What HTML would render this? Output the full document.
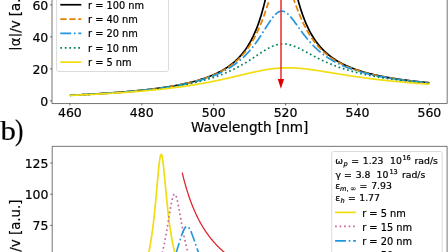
<!DOCTYPE html><html><head><meta charset="utf-8"><style>html,body{margin:0;padding:0;background:#fff;overflow:hidden}svg{display:block;filter:blur(0.3px)}text{font-family:"DejaVu Sans","Liberation Sans",sans-serif;stroke:#000;stroke-width:0.2px}</style></head><body>
<svg width="448" height="252" viewBox="0 0 448 252">
<rect width="448" height="252" fill="#fff"/>
<defs><clipPath id="ct"><rect x="52.00" y="-100" width="395.20" height="203.55"/></clipPath>
<clipPath id="cb"><rect x="52.20" y="146.35" width="394.90" height="200"/></clipPath></defs>
<g clip-path="url(#ct)" fill="none" stroke-width="1.70">
<polyline points="69.90,95.30 70.80,95.25 71.70,95.21 72.60,95.17 73.50,95.13 74.39,95.08 75.29,95.04 76.19,95.00 77.09,94.95 77.99,94.91 78.89,94.86 79.79,94.82 80.69,94.77 81.58,94.72 82.48,94.68 83.38,94.63 84.28,94.58 85.18,94.53 86.08,94.48 86.98,94.44 87.88,94.39 88.77,94.34 89.67,94.29 90.57,94.24 91.47,94.18 92.37,94.13 93.27,94.08 94.17,94.03 95.07,93.97 95.96,93.92 96.86,93.87 97.76,93.81 98.66,93.76 99.56,93.70 100.46,93.64 101.36,93.59 102.26,93.53 103.15,93.47 104.05,93.41 104.95,93.35 105.85,93.29 106.75,93.23 107.65,93.17 108.55,93.11 109.45,93.04 110.34,92.98 111.24,92.92 112.14,92.85 113.04,92.79 113.94,92.72 114.84,92.65 115.74,92.59 116.64,92.52 117.53,92.45 118.43,92.38 119.33,92.31 120.23,92.24 121.13,92.17 122.03,92.09 122.93,92.02 123.83,91.95 124.72,91.87 125.62,91.79 126.52,91.72 127.42,91.64 128.32,91.56 129.22,91.48 130.12,91.40 131.02,91.32 131.91,91.24 132.81,91.15 133.71,91.07 134.61,90.98 135.51,90.89 136.41,90.81 137.31,90.72 138.21,90.63 139.10,90.54 140.00,90.44 140.90,90.35 141.80,90.26 142.70,90.16 143.60,90.06 144.50,89.96 145.40,89.86 146.29,89.76 147.19,89.66 148.09,89.56 148.99,89.45 149.89,89.35 150.79,89.24 151.69,89.13 152.59,89.02 153.48,88.90 154.38,88.79 155.28,88.67 156.18,88.56 157.08,88.44 157.98,88.32 158.88,88.19 159.78,88.07 160.67,87.94 161.57,87.81 162.47,87.68 163.37,87.55 164.27,87.42 165.17,87.28 166.07,87.14 166.97,87.00 167.86,86.86 168.76,86.72 169.66,86.57 170.56,86.42 171.46,86.27 172.36,86.11 173.26,85.96 174.16,85.80 175.05,85.63 175.95,85.47 176.85,85.30 177.75,85.13 178.65,84.96 179.55,84.78 180.45,84.60 181.35,84.42 182.24,84.23 183.14,84.04 184.04,83.85 184.94,83.65 185.84,83.45 186.74,83.25 187.64,83.04 188.54,82.83 189.43,82.61 190.33,82.39 191.23,82.17 192.13,81.94 193.03,81.71 193.93,81.47 194.83,81.23 195.73,80.98 196.62,80.73 197.52,80.47 198.42,80.21 199.32,79.94 200.22,79.66 201.12,79.38 202.02,79.09 202.92,78.80 203.81,78.50 204.71,78.19 205.61,77.88 206.51,77.56 207.41,77.23 208.31,76.89 209.21,76.54 210.11,76.19 211.00,75.83 211.90,75.46 212.80,75.08 213.70,74.69 214.60,74.29 215.50,73.88 216.40,73.45 217.30,73.02 218.19,72.58 219.09,72.12 219.99,71.65 220.89,71.17 221.79,70.67 222.69,70.16 223.59,69.63 224.49,69.09 225.38,68.53 226.28,67.95 227.18,67.36 228.08,66.75 228.98,66.12 229.88,65.46 230.78,64.79 231.68,64.09 232.57,63.37 233.47,62.63 234.37,61.86 235.27,61.06 236.17,60.23 237.07,59.37 237.97,58.48 238.87,57.56 239.76,56.60 240.66,55.60 241.56,54.56 242.46,53.48 243.36,52.36 244.26,51.19 245.16,49.97 246.06,48.69 246.95,47.36 247.85,45.97 248.75,44.52 249.65,43.00 250.55,41.41 251.45,39.74 252.35,37.99 253.25,36.15 254.14,34.22 255.04,32.19 255.94,30.06 256.84,27.81 257.74,25.45 258.64,22.96 259.54,20.33 260.44,17.56 261.33,14.64 262.23,11.56 263.13,8.32 264.03,4.90 264.93,1.31 265.83,-2.47 266.73,-6.44 267.62,-10.59 268.52,-14.91 269.42,-19.39 270.32,-24.02 271.22,-28.75 272.12,-33.55 273.02,-38.35 273.92,-43.09 274.82,-47.67 275.71,-51.98 276.61,-55.91 277.51,-59.34 278.41,-62.15 279.31,-64.22 280.21,-65.49 281.11,-65.90 282.00,-65.45 282.90,-64.15 283.80,-62.09 284.70,-59.34 285.60,-56.04 286.50,-52.28 287.40,-48.20 288.30,-43.90 289.20,-39.47 290.09,-34.99 290.99,-30.54 291.89,-26.15 292.79,-21.87 293.69,-17.72 294.59,-13.73 295.49,-9.89 296.38,-6.22 297.28,-2.72 298.18,0.61 299.08,3.78 299.98,6.79 300.88,9.66 301.78,12.37 302.68,14.96 303.58,17.41 304.47,19.74 305.37,21.95 306.27,24.06 307.17,26.06 308.07,27.97 308.97,29.79 309.87,31.52 310.76,33.17 311.66,34.75 312.56,36.26 313.46,37.70 314.36,39.08 315.26,40.39 316.16,41.66 317.06,42.87 317.96,44.03 318.85,45.15 319.75,46.22 320.65,47.25 321.55,48.24 322.45,49.20 323.35,50.11 324.25,51.00 325.14,51.85 326.04,52.68 326.94,53.47 327.84,54.24 328.74,54.98 329.64,55.70 330.54,56.39 331.44,57.06 332.34,57.71 333.23,58.34 334.13,58.95 335.03,59.54 335.93,60.11 336.83,60.67 337.73,61.21 338.63,61.73 339.52,62.24 340.42,62.74 341.32,63.22 342.22,63.69 343.12,64.14 344.02,64.59 344.92,65.02 345.82,65.44 346.72,65.85 347.61,66.25 348.51,66.64 349.41,67.02 350.31,67.39 351.21,67.75 352.11,68.10 353.01,68.44 353.90,68.78 354.80,69.11 355.70,69.43 356.60,69.74 357.50,70.05 358.40,70.35 359.30,70.64 360.20,70.93 361.10,71.21 361.99,71.48 362.89,71.75 363.79,72.01 364.69,72.27 365.59,72.52 366.49,72.77 367.39,73.01 368.28,73.25 369.18,73.48 370.08,73.71 370.98,73.93 371.88,74.15 372.78,74.37 373.68,74.58 374.58,74.79 375.48,74.99 376.37,75.19 377.27,75.38 378.17,75.58 379.07,75.77 379.97,75.95 380.87,76.13 381.77,76.31 382.67,76.49 383.56,76.66 384.46,76.83 385.36,77.00 386.26,77.17 387.16,77.33 388.06,77.49 388.96,77.64 389.86,77.80 390.75,77.95 391.65,78.10 392.55,78.25 393.45,78.39 394.35,78.53 395.25,78.67 396.15,78.81 397.05,78.95 397.94,79.08 398.84,79.21 399.74,79.34 400.64,79.47 401.54,79.60 402.44,79.72 403.34,79.84 404.24,79.96 405.13,80.08 406.03,80.20 406.93,80.32 407.83,80.43 408.73,80.54 409.63,80.65 410.53,80.76 411.43,80.87 412.32,80.98 413.22,81.08 414.12,81.19 415.02,81.29 415.92,81.39 416.82,81.49 417.72,81.59 418.62,81.68 419.51,81.78 420.41,81.88 421.31,81.97 422.21,82.06 423.11,82.15 424.01,82.24 424.91,82.33 425.81,82.42 426.70,82.51 427.60,82.59 428.50,82.68 429.40,82.76" stroke="#000000"/>
<polyline points="69.90,95.30 70.80,95.26 71.70,95.22 72.60,95.17 73.50,95.13 74.39,95.09 75.29,95.04 76.19,95.00 77.09,94.96 77.99,94.91 78.89,94.87 79.79,94.82 80.69,94.78 81.58,94.73 82.48,94.68 83.38,94.64 84.28,94.59 85.18,94.54 86.08,94.49 86.98,94.44 87.88,94.39 88.77,94.34 89.67,94.29 90.57,94.24 91.47,94.19 92.37,94.14 93.27,94.09 94.17,94.04 95.07,93.98 95.96,93.93 96.86,93.87 97.76,93.82 98.66,93.76 99.56,93.71 100.46,93.65 101.36,93.60 102.26,93.54 103.15,93.48 104.05,93.42 104.95,93.36 105.85,93.30 106.75,93.24 107.65,93.18 108.55,93.12 109.45,93.06 110.34,92.99 111.24,92.93 112.14,92.87 113.04,92.80 113.94,92.74 114.84,92.67 115.74,92.60 116.64,92.53 117.53,92.47 118.43,92.40 119.33,92.33 120.23,92.26 121.13,92.18 122.03,92.11 122.93,92.04 123.83,91.96 124.72,91.89 125.62,91.81 126.52,91.74 127.42,91.66 128.32,91.58 129.22,91.50 130.12,91.42 131.02,91.34 131.91,91.26 132.81,91.17 133.71,91.09 134.61,91.00 135.51,90.92 136.41,90.83 137.31,90.74 138.21,90.65 139.10,90.56 140.00,90.47 140.90,90.38 141.80,90.28 142.70,90.19 143.60,90.09 144.50,89.99 145.40,89.89 146.29,89.79 147.19,89.69 148.09,89.59 148.99,89.49 149.89,89.38 150.79,89.27 151.69,89.16 152.59,89.05 153.48,88.94 154.38,88.83 155.28,88.71 156.18,88.60 157.08,88.48 157.98,88.36 158.88,88.24 159.78,88.11 160.67,87.99 161.57,87.86 162.47,87.73 163.37,87.60 164.27,87.47 165.17,87.33 166.07,87.20 166.97,87.06 167.86,86.92 168.76,86.77 169.66,86.63 170.56,86.48 171.46,86.33 172.36,86.18 173.26,86.02 174.16,85.87 175.05,85.70 175.95,85.54 176.85,85.38 177.75,85.21 178.65,85.04 179.55,84.86 180.45,84.69 181.35,84.50 182.24,84.32 183.14,84.13 184.04,83.94 184.94,83.75 185.84,83.55 186.74,83.35 187.64,83.15 188.54,82.94 189.43,82.73 190.33,82.51 191.23,82.29 192.13,82.07 193.03,81.84 193.93,81.61 194.83,81.37 195.73,81.12 196.62,80.88 197.52,80.62 198.42,80.37 199.32,80.10 200.22,79.83 201.12,79.56 202.02,79.28 202.92,78.99 203.81,78.70 204.71,78.40 205.61,78.09 206.51,77.78 207.41,77.46 208.31,77.13 209.21,76.79 210.11,76.45 211.00,76.10 211.90,75.74 212.80,75.37 213.70,74.99 214.60,74.60 215.50,74.21 216.40,73.80 217.30,73.38 218.19,72.95 219.09,72.51 219.99,72.06 220.89,71.60 221.79,71.12 222.69,70.63 223.59,70.13 224.49,69.61 225.38,69.08 226.28,68.53 227.18,67.96 228.08,67.38 228.98,66.78 229.88,66.16 230.78,65.53 231.68,64.87 232.57,64.19 233.47,63.49 234.37,62.77 235.27,62.03 236.17,61.25 237.07,60.46 237.97,59.63 238.87,58.78 239.76,57.90 240.66,56.98 241.56,56.03 242.46,55.05 243.36,54.03 244.26,52.97 245.16,51.88 246.06,50.74 246.95,49.55 247.85,48.33 248.75,47.05 249.65,45.72 250.55,44.34 251.45,42.90 252.35,41.40 253.25,39.84 254.14,38.22 255.04,36.53 255.94,34.77 256.84,32.94 257.74,31.04 258.64,29.06 259.54,27.00 260.44,24.86 261.33,22.64 262.23,20.33 263.13,17.95 264.03,15.49 264.93,12.96 265.83,10.35 266.73,7.69 267.62,4.97 268.52,2.21 269.42,-0.57 270.32,-3.35 271.22,-6.11 272.12,-8.82 273.02,-11.44 273.92,-13.95 274.82,-16.31 275.71,-18.47 276.61,-20.39 277.51,-22.04 278.41,-23.37 279.31,-24.37 280.21,-25.01 281.11,-25.27 282.00,-25.16 282.90,-24.68 283.80,-23.84 284.70,-22.68 285.60,-21.22 286.50,-19.50 287.40,-17.56 288.30,-15.43 289.20,-13.16 290.09,-10.77 290.99,-8.32 291.89,-5.81 292.79,-3.28 293.69,-0.75 294.59,1.76 295.49,4.23 296.38,6.66 297.28,9.04 298.18,11.36 299.08,13.61 299.98,15.80 300.88,17.91 301.78,19.95 302.68,21.92 303.58,23.82 304.47,25.64 305.37,27.40 306.27,29.10 307.17,30.73 308.07,32.30 308.97,33.80 309.87,35.25 310.76,36.65 311.66,37.99 312.56,39.28 313.46,40.53 314.36,41.72 315.26,42.88 316.16,43.99 317.06,45.06 317.96,46.09 318.85,47.09 319.75,48.05 320.65,48.97 321.55,49.87 322.45,50.73 323.35,51.57 324.25,52.38 325.14,53.16 326.04,53.92 326.94,54.65 327.84,55.36 328.74,56.05 329.64,56.71 330.54,57.36 331.44,57.98 332.34,58.59 333.23,59.18 334.13,59.75 335.03,60.31 335.93,60.85 336.83,61.37 337.73,61.88 338.63,62.38 339.52,62.86 340.42,63.33 341.32,63.79 342.22,64.24 343.12,64.67 344.02,65.10 344.92,65.51 345.82,65.91 346.72,66.30 347.61,66.69 348.51,67.06 349.41,67.42 350.31,67.78 351.21,68.13 352.11,68.47 353.01,68.80 353.90,69.12 354.80,69.44 355.70,69.75 356.60,70.05 357.50,70.35 358.40,70.64 359.30,70.92 360.20,71.20 361.10,71.47 361.99,71.74 362.89,72.00 363.79,72.25 364.69,72.50 365.59,72.75 366.49,72.99 367.39,73.23 368.28,73.46 369.18,73.68 370.08,73.91 370.98,74.13 371.88,74.34 372.78,74.55 373.68,74.76 374.58,74.96 375.48,75.16 376.37,75.35 377.27,75.55 378.17,75.73 379.07,75.92 379.97,76.10 380.87,76.28 381.77,76.46 382.67,76.63 383.56,76.80 384.46,76.97 385.36,77.13 386.26,77.29 387.16,77.45 388.06,77.61 388.96,77.76 389.86,77.91 390.75,78.06 391.65,78.21 392.55,78.35 393.45,78.50 394.35,78.64 395.25,78.77 396.15,78.91 397.05,79.04 397.94,79.18 398.84,79.31 399.74,79.43 400.64,79.56 401.54,79.68 402.44,79.81 403.34,79.93 404.24,80.05 405.13,80.16 406.03,80.28 406.93,80.39 407.83,80.51 408.73,80.62 409.63,80.73 410.53,80.83 411.43,80.94 412.32,81.05 413.22,81.15 414.12,81.25 415.02,81.35 415.92,81.45 416.82,81.55 417.72,81.65 418.62,81.75 419.51,81.84 420.41,81.93 421.31,82.03 422.21,82.12 423.11,82.21 424.01,82.30 424.91,82.38 425.81,82.47 426.70,82.56 427.60,82.64 428.50,82.73 429.40,82.81" stroke="#E38200" stroke-dasharray="6.29 2.72"/>
<polyline points="69.90,95.31 70.80,95.27 71.70,95.23 72.60,95.19 73.50,95.14 74.39,95.10 75.29,95.06 76.19,95.01 77.09,94.97 77.99,94.93 78.89,94.88 79.79,94.84 80.69,94.79 81.58,94.74 82.48,94.70 83.38,94.65 84.28,94.60 85.18,94.56 86.08,94.51 86.98,94.46 87.88,94.41 88.77,94.36 89.67,94.31 90.57,94.26 91.47,94.21 92.37,94.16 93.27,94.11 94.17,94.06 95.07,94.00 95.96,93.95 96.86,93.90 97.76,93.84 98.66,93.79 99.56,93.73 100.46,93.68 101.36,93.62 102.26,93.56 103.15,93.50 104.05,93.45 104.95,93.39 105.85,93.33 106.75,93.27 107.65,93.21 108.55,93.15 109.45,93.09 110.34,93.02 111.24,92.96 112.14,92.90 113.04,92.83 113.94,92.77 114.84,92.70 115.74,92.63 116.64,92.57 117.53,92.50 118.43,92.43 119.33,92.36 120.23,92.29 121.13,92.22 122.03,92.15 122.93,92.08 123.83,92.00 124.72,91.93 125.62,91.85 126.52,91.78 127.42,91.70 128.32,91.62 129.22,91.55 130.12,91.47 131.02,91.39 131.91,91.31 132.81,91.22 133.71,91.14 134.61,91.06 135.51,90.97 136.41,90.88 137.31,90.80 138.21,90.71 139.10,90.62 140.00,90.53 140.90,90.44 141.80,90.35 142.70,90.25 143.60,90.16 144.50,90.06 145.40,89.96 146.29,89.86 147.19,89.76 148.09,89.66 148.99,89.56 149.89,89.46 150.79,89.35 151.69,89.24 152.59,89.14 153.48,89.03 154.38,88.91 155.28,88.80 156.18,88.69 157.08,88.57 157.98,88.45 158.88,88.33 159.78,88.21 160.67,88.09 161.57,87.97 162.47,87.84 163.37,87.71 164.27,87.58 165.17,87.45 166.07,87.32 166.97,87.18 167.86,87.04 168.76,86.90 169.66,86.76 170.56,86.62 171.46,86.47 172.36,86.32 173.26,86.17 174.16,86.02 175.05,85.86 175.95,85.70 176.85,85.54 177.75,85.38 178.65,85.21 179.55,85.04 180.45,84.87 181.35,84.70 182.24,84.52 183.14,84.34 184.04,84.16 184.94,83.97 185.84,83.78 186.74,83.58 187.64,83.39 188.54,83.19 189.43,82.98 190.33,82.77 191.23,82.56 192.13,82.35 193.03,82.13 193.93,81.90 194.83,81.68 195.73,81.44 196.62,81.21 197.52,80.96 198.42,80.72 199.32,80.47 200.22,80.21 201.12,79.95 202.02,79.68 202.92,79.41 203.81,79.13 204.71,78.85 205.61,78.56 206.51,78.26 207.41,77.96 208.31,77.65 209.21,77.34 210.11,77.01 211.00,76.68 211.90,76.35 212.80,76.00 213.70,75.65 214.60,75.29 215.50,74.92 216.40,74.54 217.30,74.16 218.19,73.76 219.09,73.36 219.99,72.94 220.89,72.52 221.79,72.08 222.69,71.63 223.59,71.17 224.49,70.71 225.38,70.22 226.28,69.73 227.18,69.22 228.08,68.70 228.98,68.17 229.88,67.62 230.78,67.05 231.68,66.48 232.57,65.88 233.47,65.27 234.37,64.64 235.27,64.00 236.17,63.33 237.07,62.65 237.97,61.95 238.87,61.22 239.76,60.48 240.66,59.71 241.56,58.93 242.46,58.12 243.36,57.28 244.26,56.42 245.16,55.54 246.06,54.63 246.95,53.69 247.85,52.73 248.75,51.74 249.65,50.72 250.55,49.67 251.45,48.59 252.35,47.49 253.25,46.35 254.14,45.18 255.04,43.99 255.94,42.76 256.84,41.51 257.74,40.22 258.64,38.91 259.54,37.58 260.44,36.22 261.33,34.84 262.23,33.44 263.13,32.02 264.03,30.59 264.93,29.16 265.83,27.73 266.73,26.30 267.62,24.88 268.52,23.48 269.42,22.11 270.32,20.78 271.22,19.49 272.12,18.25 273.02,17.09 273.92,16.00 274.82,15.00 275.71,14.09 276.61,13.30 277.51,12.61 278.41,12.05 279.31,11.62 280.21,11.32 281.11,11.15 282.00,11.12 282.90,11.23 283.80,11.46 284.70,11.83 285.60,12.31 286.50,12.91 287.40,13.61 288.30,14.41 289.20,15.30 290.09,16.26 290.99,17.29 291.89,18.38 292.79,19.52 293.69,20.69 294.59,21.90 295.49,23.13 296.38,24.37 297.28,25.62 298.18,26.87 299.08,28.13 299.98,29.37 300.88,30.61 301.78,31.83 302.68,33.04 303.58,34.23 304.47,35.40 305.37,36.55 306.27,37.67 307.17,38.77 308.07,39.85 308.97,40.90 309.87,41.93 310.76,42.93 311.66,43.90 312.56,44.85 313.46,45.78 314.36,46.68 315.26,47.56 316.16,48.42 317.06,49.25 317.96,50.06 318.85,50.84 319.75,51.61 320.65,52.36 321.55,53.08 322.45,53.79 323.35,54.47 324.25,55.14 325.14,55.79 326.04,56.42 326.94,57.04 327.84,57.64 328.74,58.22 329.64,58.79 330.54,59.35 331.44,59.89 332.34,60.41 333.23,60.93 334.13,61.43 335.03,61.91 335.93,62.39 336.83,62.85 337.73,63.30 338.63,63.74 339.52,64.17 340.42,64.60 341.32,65.01 342.22,65.41 343.12,65.80 344.02,66.18 344.92,66.55 345.82,66.92 346.72,67.28 347.61,67.62 348.51,67.97 349.41,68.30 350.31,68.63 351.21,68.95 352.11,69.26 353.01,69.56 353.90,69.86 354.80,70.16 355.70,70.44 356.60,70.73 357.50,71.00 358.40,71.27 359.30,71.54 360.20,71.80 361.10,72.05 361.99,72.30 362.89,72.54 363.79,72.78 364.69,73.02 365.59,73.25 366.49,73.48 367.39,73.70 368.28,73.92 369.18,74.13 370.08,74.34 370.98,74.55 371.88,74.75 372.78,74.95 373.68,75.15 374.58,75.34 375.48,75.53 376.37,75.72 377.27,75.90 378.17,76.08 379.07,76.26 379.97,76.43 380.87,76.60 381.77,76.77 382.67,76.94 383.56,77.10 384.46,77.26 385.36,77.42 386.26,77.57 387.16,77.72 388.06,77.87 388.96,78.02 389.86,78.17 390.75,78.31 391.65,78.45 392.55,78.59 393.45,78.73 394.35,78.86 395.25,79.00 396.15,79.13 397.05,79.26 397.94,79.39 398.84,79.51 399.74,79.64 400.64,79.76 401.54,79.88 402.44,80.00 403.34,80.11 404.24,80.23 405.13,80.34 406.03,80.46 406.93,80.57 407.83,80.68 408.73,80.78 409.63,80.89 410.53,81.00 411.43,81.10 412.32,81.20 413.22,81.30 414.12,81.40 415.02,81.50 415.92,81.60 416.82,81.69 417.72,81.79 418.62,81.88 419.51,81.97 420.41,82.07 421.31,82.16 422.21,82.24 423.11,82.33 424.01,82.42 424.91,82.51 425.81,82.59 426.70,82.67 427.60,82.76 428.50,82.84 429.40,82.92" stroke="#2196DE" stroke-dasharray="10.88 2.72 1.70 2.72"/>
<polyline points="69.90,95.35 70.80,95.30 71.70,95.26 72.60,95.22 73.50,95.18 74.39,95.14 75.29,95.10 76.19,95.05 77.09,95.01 77.99,94.97 78.89,94.92 79.79,94.88 80.69,94.83 81.58,94.79 82.48,94.74 83.38,94.70 84.28,94.65 85.18,94.60 86.08,94.56 86.98,94.51 87.88,94.46 88.77,94.41 89.67,94.36 90.57,94.32 91.47,94.27 92.37,94.22 93.27,94.16 94.17,94.11 95.07,94.06 95.96,94.01 96.86,93.96 97.76,93.90 98.66,93.85 99.56,93.80 100.46,93.74 101.36,93.69 102.26,93.63 103.15,93.58 104.05,93.52 104.95,93.46 105.85,93.40 106.75,93.35 107.65,93.29 108.55,93.23 109.45,93.17 110.34,93.11 111.24,93.05 112.14,92.98 113.04,92.92 113.94,92.86 114.84,92.79 115.74,92.73 116.64,92.66 117.53,92.60 118.43,92.53 119.33,92.47 120.23,92.40 121.13,92.33 122.03,92.26 122.93,92.19 123.83,92.12 124.72,92.05 125.62,91.97 126.52,91.90 127.42,91.83 128.32,91.75 129.22,91.68 130.12,91.60 131.02,91.52 131.91,91.45 132.81,91.37 133.71,91.29 134.61,91.21 135.51,91.12 136.41,91.04 137.31,90.96 138.21,90.87 139.10,90.79 140.00,90.70 140.90,90.61 141.80,90.52 142.70,90.43 143.60,90.34 144.50,90.25 145.40,90.16 146.29,90.06 147.19,89.97 148.09,89.87 148.99,89.77 149.89,89.68 150.79,89.58 151.69,89.47 152.59,89.37 153.48,89.27 154.38,89.16 155.28,89.06 156.18,88.95 157.08,88.84 157.98,88.73 158.88,88.62 159.78,88.50 160.67,88.39 161.57,88.27 162.47,88.15 163.37,88.03 164.27,87.91 165.17,87.79 166.07,87.66 166.97,87.53 167.86,87.41 168.76,87.27 169.66,87.14 170.56,87.01 171.46,86.87 172.36,86.73 173.26,86.59 174.16,86.45 175.05,86.31 175.95,86.16 176.85,86.01 177.75,85.86 178.65,85.71 179.55,85.56 180.45,85.40 181.35,85.24 182.24,85.08 183.14,84.91 184.04,84.75 184.94,84.58 185.84,84.40 186.74,84.23 187.64,84.05 188.54,83.87 189.43,83.69 190.33,83.50 191.23,83.31 192.13,83.12 193.03,82.92 193.93,82.72 194.83,82.52 195.73,82.31 196.62,82.10 197.52,81.89 198.42,81.68 199.32,81.46 200.22,81.23 201.12,81.00 202.02,80.77 202.92,80.54 203.81,80.30 204.71,80.05 205.61,79.81 206.51,79.55 207.41,79.30 208.31,79.04 209.21,78.77 210.11,78.50 211.00,78.22 211.90,77.94 212.80,77.66 213.70,77.36 214.60,77.07 215.50,76.76 216.40,76.46 217.30,76.14 218.19,75.82 219.09,75.50 219.99,75.17 220.89,74.83 221.79,74.49 222.69,74.14 223.59,73.78 224.49,73.42 225.38,73.05 226.28,72.67 227.18,72.29 228.08,71.89 228.98,71.50 229.88,71.09 230.78,70.68 231.68,70.26 232.57,69.83 233.47,69.39 234.37,68.95 235.27,68.50 236.17,68.04 237.07,67.57 237.97,67.09 238.87,66.61 239.76,66.12 240.66,65.62 241.56,65.11 242.46,64.59 243.36,64.07 244.26,63.54 245.16,63.00 246.06,62.46 246.95,61.90 247.85,61.34 248.75,60.78 249.65,60.21 250.55,59.63 251.45,59.05 252.35,58.46 253.25,57.87 254.14,57.28 255.04,56.68 255.94,56.08 256.84,55.48 257.74,54.89 258.64,54.29 259.54,53.69 260.44,53.10 261.33,52.52 262.23,51.94 263.13,51.37 264.03,50.80 264.93,50.25 265.83,49.71 266.73,49.19 267.62,48.68 268.52,48.18 269.42,47.71 270.32,47.26 271.22,46.83 272.12,46.42 273.02,46.04 273.92,45.69 274.82,45.36 275.71,45.07 276.61,44.80 277.51,44.57 278.41,44.37 279.31,44.21 280.21,44.08 281.11,43.98 282.00,43.92 282.90,43.89 283.80,43.90 284.70,43.94 285.60,44.01 286.50,44.12 287.40,44.26 288.30,44.43 289.20,44.63 290.09,44.85 290.99,45.11 291.89,45.39 292.79,45.69 293.69,46.01 294.59,46.36 295.49,46.72 296.38,47.11 297.28,47.51 298.18,47.92 299.08,48.34 299.98,48.78 300.88,49.23 301.78,49.69 302.68,50.15 303.58,50.62 304.47,51.09 305.37,51.57 306.27,52.05 307.17,52.54 308.07,53.02 308.97,53.51 309.87,53.99 310.76,54.47 311.66,54.95 312.56,55.43 313.46,55.91 314.36,56.38 315.26,56.85 316.16,57.31 317.06,57.77 317.96,58.23 318.85,58.68 319.75,59.12 320.65,59.56 321.55,60.00 322.45,60.43 323.35,60.85 324.25,61.26 325.14,61.68 326.04,62.08 326.94,62.48 327.84,62.87 328.74,63.26 329.64,63.64 330.54,64.01 331.44,64.38 332.34,64.74 333.23,65.10 334.13,65.45 335.03,65.79 335.93,66.13 336.83,66.46 337.73,66.79 338.63,67.11 339.52,67.43 340.42,67.74 341.32,68.04 342.22,68.35 343.12,68.64 344.02,68.93 344.92,69.22 345.82,69.50 346.72,69.77 347.61,70.04 348.51,70.31 349.41,70.57 350.31,70.83 351.21,71.08 352.11,71.33 353.01,71.58 353.90,71.82 354.80,72.05 355.70,72.29 356.60,72.52 357.50,72.74 358.40,72.96 359.30,73.18 360.20,73.40 361.10,73.61 361.99,73.81 362.89,74.02 363.79,74.22 364.69,74.42 365.59,74.61 366.49,74.80 367.39,74.99 368.28,75.18 369.18,75.36 370.08,75.54 370.98,75.72 371.88,75.89 372.78,76.06 373.68,76.23 374.58,76.40 375.48,76.56 376.37,76.73 377.27,76.89 378.17,77.04 379.07,77.20 379.97,77.35 380.87,77.50 381.77,77.65 382.67,77.79 383.56,77.94 384.46,78.08 385.36,78.22 386.26,78.36 387.16,78.49 388.06,78.63 388.96,78.76 389.86,78.89 390.75,79.02 391.65,79.14 392.55,79.27 393.45,79.39 394.35,79.51 395.25,79.63 396.15,79.75 397.05,79.87 397.94,79.99 398.84,80.10 399.74,80.21 400.64,80.32 401.54,80.43 402.44,80.54 403.34,80.65 404.24,80.75 405.13,80.86 406.03,80.96 406.93,81.06 407.83,81.16 408.73,81.26 409.63,81.36 410.53,81.46 411.43,81.55 412.32,81.65 413.22,81.74 414.12,81.83 415.02,81.92 415.92,82.01 416.82,82.10 417.72,82.19 418.62,82.28 419.51,82.36 420.41,82.45 421.31,82.53 422.21,82.61 423.11,82.70 424.01,82.78 424.91,82.86 425.81,82.94 426.70,83.01 427.60,83.09 428.50,83.17 429.40,83.24" stroke="#00805F" stroke-dasharray="1.70 2.80"/>
<polyline points="69.90,95.45 70.80,95.41 71.70,95.38 72.60,95.34 73.50,95.30 74.39,95.26 75.29,95.22 76.19,95.18 77.09,95.14 77.99,95.10 78.89,95.05 79.79,95.01 80.69,94.97 81.58,94.93 82.48,94.88 83.38,94.84 84.28,94.80 85.18,94.75 86.08,94.71 86.98,94.67 87.88,94.62 88.77,94.58 89.67,94.53 90.57,94.48 91.47,94.44 92.37,94.39 93.27,94.34 94.17,94.30 95.07,94.25 95.96,94.20 96.86,94.15 97.76,94.10 98.66,94.05 99.56,94.00 100.46,93.95 101.36,93.90 102.26,93.85 103.15,93.80 104.05,93.75 104.95,93.69 105.85,93.64 106.75,93.59 107.65,93.53 108.55,93.48 109.45,93.42 110.34,93.37 111.24,93.31 112.14,93.25 113.04,93.20 113.94,93.14 114.84,93.08 115.74,93.02 116.64,92.96 117.53,92.90 118.43,92.84 119.33,92.78 120.23,92.72 121.13,92.66 122.03,92.60 122.93,92.53 123.83,92.47 124.72,92.41 125.62,92.34 126.52,92.28 127.42,92.21 128.32,92.14 129.22,92.07 130.12,92.01 131.02,91.94 131.91,91.87 132.81,91.80 133.71,91.73 134.61,91.66 135.51,91.58 136.41,91.51 137.31,91.44 138.21,91.36 139.10,91.29 140.00,91.21 140.90,91.13 141.80,91.06 142.70,90.98 143.60,90.90 144.50,90.82 145.40,90.74 146.29,90.66 147.19,90.58 148.09,90.49 148.99,90.41 149.89,90.32 150.79,90.24 151.69,90.15 152.59,90.06 153.48,89.98 154.38,89.89 155.28,89.80 156.18,89.71 157.08,89.61 157.98,89.52 158.88,89.43 159.78,89.33 160.67,89.23 161.57,89.14 162.47,89.04 163.37,88.94 164.27,88.84 165.17,88.74 166.07,88.64 166.97,88.53 167.86,88.43 168.76,88.32 169.66,88.21 170.56,88.11 171.46,88.00 172.36,87.89 173.26,87.77 174.16,87.66 175.05,87.55 175.95,87.43 176.85,87.31 177.75,87.20 178.65,87.08 179.55,86.96 180.45,86.83 181.35,86.71 182.24,86.59 183.14,86.46 184.04,86.33 184.94,86.20 185.84,86.07 186.74,85.94 187.64,85.81 188.54,85.67 189.43,85.54 190.33,85.40 191.23,85.26 192.13,85.12 193.03,84.98 193.93,84.83 194.83,84.69 195.73,84.54 196.62,84.39 197.52,84.24 198.42,84.09 199.32,83.94 200.22,83.78 201.12,83.63 202.02,83.47 202.92,83.31 203.81,83.15 204.71,82.98 205.61,82.82 206.51,82.65 207.41,82.48 208.31,82.31 209.21,82.14 210.11,81.97 211.00,81.79 211.90,81.61 212.80,81.44 213.70,81.26 214.60,81.07 215.50,80.89 216.40,80.70 217.30,80.52 218.19,80.33 219.09,80.14 219.99,79.95 220.89,79.75 221.79,79.56 222.69,79.36 223.59,79.17 224.49,78.97 225.38,78.77 226.28,78.56 227.18,78.36 228.08,78.16 228.98,77.95 229.88,77.74 230.78,77.54 231.68,77.33 232.57,77.12 233.47,76.91 234.37,76.69 235.27,76.48 236.17,76.27 237.07,76.06 237.97,75.84 238.87,75.63 239.76,75.41 240.66,75.20 241.56,74.98 242.46,74.77 243.36,74.55 244.26,74.34 245.16,74.13 246.06,73.91 246.95,73.70 247.85,73.49 248.75,73.28 249.65,73.07 250.55,72.86 251.45,72.66 252.35,72.45 253.25,72.25 254.14,72.05 255.04,71.86 255.94,71.66 256.84,71.47 257.74,71.28 258.64,71.09 259.54,70.91 260.44,70.73 261.33,70.55 262.23,70.38 263.13,70.22 264.03,70.05 264.93,69.89 265.83,69.74 266.73,69.59 267.62,69.44 268.52,69.31 269.42,69.17 270.32,69.04 271.22,68.92 272.12,68.80 273.02,68.69 273.92,68.59 274.82,68.49 275.71,68.39 276.61,68.31 277.51,68.23 278.41,68.16 279.31,68.09 280.21,68.03 281.11,67.98 282.00,67.93 282.90,67.89 283.80,67.86 284.70,67.83 285.60,67.81 286.50,67.79 287.40,67.79 288.30,67.79 289.20,67.79 290.09,67.81 290.99,67.83 291.89,67.85 292.79,67.88 293.69,67.92 294.59,67.96 295.49,68.01 296.38,68.06 297.28,68.12 298.18,68.19 299.08,68.26 299.98,68.33 300.88,68.41 301.78,68.50 302.68,68.59 303.58,68.68 304.47,68.78 305.37,68.88 306.27,68.98 307.17,69.09 308.07,69.20 308.97,69.32 309.87,69.43 310.76,69.56 311.66,69.68 312.56,69.81 313.46,69.93 314.36,70.06 315.26,70.20 316.16,70.33 317.06,70.47 317.96,70.61 318.85,70.75 319.75,70.89 320.65,71.03 321.55,71.18 322.45,71.32 323.35,71.47 324.25,71.61 325.14,71.76 326.04,71.91 326.94,72.06 327.84,72.20 328.74,72.35 329.64,72.50 330.54,72.65 331.44,72.80 332.34,72.95 333.23,73.10 334.13,73.25 335.03,73.40 335.93,73.54 336.83,73.69 337.73,73.84 338.63,73.99 339.52,74.13 340.42,74.28 341.32,74.43 342.22,74.57 343.12,74.71 344.02,74.86 344.92,75.00 345.82,75.14 346.72,75.28 347.61,75.42 348.51,75.56 349.41,75.70 350.31,75.84 351.21,75.97 352.11,76.11 353.01,76.24 353.90,76.38 354.80,76.51 355.70,76.64 356.60,76.77 357.50,76.90 358.40,77.03 359.30,77.16 360.20,77.28 361.10,77.41 361.99,77.53 362.89,77.66 363.79,77.78 364.69,77.90 365.59,78.02 366.49,78.14 367.39,78.26 368.28,78.37 369.18,78.49 370.08,78.60 370.98,78.72 371.88,78.83 372.78,78.94 373.68,79.05 374.58,79.16 375.48,79.27 376.37,79.38 377.27,79.48 378.17,79.59 379.07,79.69 379.97,79.80 380.87,79.90 381.77,80.00 382.67,80.10 383.56,80.20 384.46,80.30 385.36,80.40 386.26,80.50 387.16,80.59 388.06,80.69 388.96,80.78 389.86,80.87 390.75,80.97 391.65,81.06 392.55,81.15 393.45,81.24 394.35,81.33 395.25,81.41 396.15,81.50 397.05,81.59 397.94,81.67 398.84,81.76 399.74,81.84 400.64,81.92 401.54,82.01 402.44,82.09 403.34,82.17 404.24,82.25 405.13,82.33 406.03,82.41 406.93,82.48 407.83,82.56 408.73,82.64 409.63,82.71 410.53,82.79 411.43,82.86 412.32,82.94 413.22,83.01 414.12,83.08 415.02,83.15 415.92,83.22 416.82,83.29 417.72,83.36 418.62,83.43 419.51,83.50 420.41,83.57 421.31,83.63 422.21,83.70 423.11,83.77 424.01,83.83 424.91,83.90 425.81,83.96 426.70,84.02 427.60,84.09 428.50,84.15 429.40,84.21" stroke="#F0DD12"/>
</g>
<line x1="281" y1="-5" x2="281" y2="80" stroke="#e42c2c" stroke-width="1.5"/>
<polygon points="277.7,79 284.1,79 280.9,88.8" fill="#e00000"/>
<g stroke="#000" stroke-width="0.55" fill="none">
<line x1="52.00" y1="-10" x2="52.00" y2="103.55"/>
<line x1="447.20" y1="-10" x2="447.20" y2="103.55"/>
<line x1="52.00" y1="103.55" x2="447.20" y2="103.55"/>
<line x1="50.00" y1="100.90" x2="52.00" y2="100.90"/>
<line x1="50.00" y1="68.90" x2="52.00" y2="68.90"/>
<line x1="50.00" y1="36.90" x2="52.00" y2="36.90"/>
<line x1="50.00" y1="4.90" x2="52.00" y2="4.90"/>
<line x1="69.90" y1="103.55" x2="69.90" y2="105.55"/>
<line x1="141.80" y1="103.55" x2="141.80" y2="105.55"/>
<line x1="213.70" y1="103.55" x2="213.70" y2="105.55"/>
<line x1="285.60" y1="103.55" x2="285.60" y2="105.55"/>
<line x1="357.50" y1="103.55" x2="357.50" y2="105.55"/>
<line x1="429.40" y1="103.55" x2="429.40" y2="105.55"/>
</g>
<g font-size="12.50" fill="#000">
<text x="48.3" y="105.86" text-anchor="end">0</text>
<text x="48.3" y="73.86" text-anchor="end">20</text>
<text x="48.3" y="41.86" text-anchor="end">40</text>
<text x="48.3" y="9.86" text-anchor="end">60</text>
<text x="69.90" y="117.0" text-anchor="middle">460</text>
<text x="141.80" y="117.0" text-anchor="middle">480</text>
<text x="213.70" y="117.0" text-anchor="middle">500</text>
<text x="285.60" y="117.0" text-anchor="middle">520</text>
<text x="357.50" y="117.0" text-anchor="middle">540</text>
<text x="429.40" y="117.0" text-anchor="middle">560</text>
</g>
<text x="249.6" y="131.8" text-anchor="middle" font-size="13.60">Wavelength [nm]</text>
<text transform="translate(19.6,50.4) rotate(-90)" font-size="13.4"><tspan font-size="11.6" dy="-1.6">|</tspan><tspan dy="1.6" dx="0.3">α</tspan><tspan font-size="11.6" dy="-1.6" dx="0.3">|</tspan><tspan dy="1.6" dx="0.3">/v [a.u.]</tspan></text>
<rect x="56.6" y="-20" width="111.9" height="91.5" rx="2" fill="#fff" fill-opacity="0.8" stroke="#cccccc" stroke-width="0.7"/>
<g fill="none" stroke-width="1.70">
<line x1="60.3" y1="4.75" x2="81.3" y2="4.75" stroke="#000000"/>
<line x1="60.3" y1="19.10" x2="81.3" y2="19.10" stroke="#E38200" stroke-dasharray="6.29 2.72"/>
<line x1="60.3" y1="33.45" x2="81.3" y2="33.45" stroke="#2196DE" stroke-dasharray="10.88 2.72 1.70 2.72"/>
<line x1="60.3" y1="47.80" x2="81.3" y2="47.80" stroke="#00805F" stroke-dasharray="1.70 2.80"/>
<line x1="60.3" y1="62.15" x2="81.3" y2="62.15" stroke="#F0DD12"/>
</g>
<g font-size="9.80" fill="#000">
<text x="88.0" y="8.65">r = 100 nm</text>
<text x="88.0" y="23.00">r = 40 nm</text>
<text x="88.0" y="37.35">r = 20 nm</text>
<text x="88.0" y="51.70">r = 10 nm</text>
<text x="88.0" y="66.05">r = 5 nm</text>
</g>
<g style="stroke-width:0px;stroke:none"><text transform="translate(0.5,139.7) scale(1.12,1)" font-size="27.5" style="font-family:'Liberation Serif',serif">b</text><text transform="translate(14.9,140.0) scale(0.9,1.08)" font-size="28" style="font-family:'Liberation Serif',serif">)</text></g>
<g clip-path="url(#cb)" fill="none" stroke-width="1.70">
<polyline points="143.80,270.26 143.90,269.97 144.01,269.68 144.11,269.39 144.22,269.10 144.32,268.80 144.42,268.50 144.53,268.20 144.63,267.89 144.74,267.58 144.84,267.27 144.94,266.95 145.05,266.63 145.15,266.31 145.26,265.98 145.36,265.65 145.47,265.31 145.57,264.98 145.67,264.63 145.78,264.29 145.88,263.94 145.99,263.58 146.09,263.23 146.19,262.87 146.30,262.50 146.40,262.13 146.51,261.76 146.61,261.38 146.71,260.99 146.82,260.61 146.92,260.21 147.03,259.82 147.13,259.42 147.23,259.01 147.34,258.60 147.44,258.18 147.55,257.76 147.65,257.34 147.75,256.91 147.86,256.47 147.96,256.03 148.07,255.58 148.17,255.13 148.28,254.67 148.38,254.21 148.48,253.74 148.59,253.27 148.69,252.79 148.80,252.30 148.90,251.81 149.00,251.31 149.11,250.80 149.21,250.29 149.32,249.77 149.42,249.25 149.52,248.71 149.63,248.17 149.73,247.63 149.84,247.08 149.94,246.52 150.04,245.95 150.15,245.37 150.25,244.79 150.36,244.20 150.46,243.61 150.57,243.00 150.67,242.39 150.77,241.77 150.88,241.14 150.98,240.50 151.09,239.85 151.19,239.20 151.29,238.53 151.40,237.86 151.50,237.18 151.61,236.49 151.71,235.79 151.81,235.08 151.92,234.36 152.02,233.63 152.13,232.90 152.23,232.15 152.33,231.39 152.44,230.62 152.54,229.84 152.65,229.06 152.75,228.26 152.85,227.45 152.96,226.63 153.06,225.80 153.17,224.96 153.27,224.10 153.38,223.24 153.48,222.37 153.58,221.48 153.69,220.58 153.79,219.68 153.90,218.76 154.00,217.83 154.10,216.88 154.21,215.93 154.31,214.96 154.42,213.99 154.52,213.00 154.62,212.00 154.73,210.99 154.83,209.97 154.94,208.94 155.04,207.90 155.14,206.84 155.25,205.78 155.35,204.70 155.46,203.62 155.56,202.52 155.66,201.42 155.77,200.31 155.87,199.19 155.98,198.06 156.08,196.92 156.19,195.77 156.29,194.62 156.39,193.46 156.50,192.30 156.60,191.13 156.71,189.95 156.81,188.78 156.91,187.60 157.02,186.41 157.12,185.23 157.23,184.05 157.33,182.87 157.43,181.69 157.54,180.52 157.64,179.35 157.75,178.19 157.85,177.03 157.95,175.89 158.06,174.75 158.16,173.63 158.27,172.52 158.37,171.43 158.48,170.36 158.58,169.30 158.68,168.27 158.79,167.26 158.89,166.27 159.00,165.31 159.10,164.38 159.20,163.48 159.31,162.62 159.41,161.79 159.52,160.99 159.62,160.23 159.72,159.51 159.83,158.84 159.93,158.20 160.04,157.62 160.14,157.07 160.24,156.58 160.35,156.13 160.45,155.74 160.56,155.40 160.66,155.10 160.76,154.87 160.87,154.68 160.97,154.55 161.08,154.47 161.18,154.45 161.29,154.48 161.39,154.56 161.49,154.70 161.60,154.89 161.70,155.13 161.81,155.43 161.91,155.77 162.01,156.17 162.12,156.61 162.22,157.10 162.33,157.64 162.43,158.22 162.53,158.84 162.64,159.50 162.74,160.21 162.85,160.94 162.95,161.72 163.05,162.53 163.16,163.37 163.26,164.24 163.37,165.14 163.47,166.06 163.58,167.01 163.68,167.98 163.78,168.97 163.89,169.98 163.99,171.01 164.10,172.05 164.20,173.10 164.30,174.17 164.41,175.25 164.51,176.34 164.62,177.43 164.72,178.54 164.82,179.64 164.93,180.76 165.03,181.87 165.14,182.99 165.24,184.10 165.34,185.22 165.45,186.33 165.55,187.45 165.66,188.56 165.76,189.66 165.86,190.77 165.97,191.86 166.07,192.95 166.18,194.04 166.28,195.12 166.39,196.19 166.49,197.25 166.59,198.31 166.70,199.35 166.80,200.39 166.91,201.42 167.01,202.44 167.11,203.45 167.22,204.45 167.32,205.44 167.43,206.42 167.53,207.39 167.63,208.35 167.74,209.30 167.84,210.24 167.95,211.17 168.05,212.09 168.15,213.00 168.26,213.89 168.36,214.78 168.47,215.66 168.57,216.52 168.67,217.38 168.78,218.22 168.88,219.06 168.99,219.88 169.09,220.69 169.20,221.50 169.30,222.29 169.40,223.07 169.51,223.85 169.61,224.61 169.72,225.37 169.82,226.11 169.92,226.84 170.03,227.57 170.13,228.29 170.24,228.99 170.34,229.69 170.44,230.38 170.55,231.06 170.65,231.73 170.76,232.39 170.86,233.05 170.96,233.69 171.07,234.33 171.17,234.96 171.28,235.58 171.38,236.19 171.49,236.79 171.59,237.39 171.69,237.98 171.80,238.56 171.90,239.14 172.01,239.70 172.11,240.26 172.21,240.82 172.32,241.36 172.42,241.90 172.53,242.44 172.63,242.96 172.73,243.48 172.84,243.99 172.94,244.50 173.05,245.00 173.15,245.49 173.25,245.98 173.36,246.46 173.46,246.94 173.57,247.41 173.67,247.87 173.77,248.33 173.88,248.78 173.98,249.23 174.09,249.67 174.19,250.11 174.30,250.54 174.40,250.97 174.50,251.39 174.61,251.81 174.71,252.22 174.82,252.63 174.92,253.03 175.02,253.43 175.13,253.82 175.23,254.21 175.34,254.59 175.44,254.97 175.54,255.35 175.65,255.72 175.75,256.08 175.86,256.45 175.96,256.81 176.06,257.16 176.17,257.51 176.27,257.86 176.38,258.20 176.48,258.54 176.59,258.88 176.69,259.21 176.79,259.54 176.90,259.86 177.00,260.18 177.11,260.50 177.21,260.82 177.31,261.13 177.42,261.43 177.52,261.74 177.63,262.04 177.73,262.34 177.83,262.63 177.94,262.93 178.04,263.21 178.15,263.50 178.25,263.78 178.35,264.06 178.46,264.34 178.56,264.62 178.67,264.89 178.77,265.16 178.87,265.42 178.98,265.69 179.08,265.95 179.19,266.21 179.29,266.46 179.40,266.72 179.50,266.97 179.60,267.22 179.71,267.46 179.81,267.71 179.92,267.95 180.02,268.19 180.12,268.42 180.23,268.66 180.33,268.89 180.44,269.12 180.54,269.35 180.64,269.58 180.75,269.80 180.85,270.02" stroke="#F0DD12"/>
<polyline points="156.71,270.20 156.81,269.94 156.91,269.68 157.02,269.42 157.12,269.16 157.23,268.89 157.33,268.62 157.43,268.35 157.54,268.08 157.64,267.81 157.75,267.53 157.85,267.25 157.95,266.96 158.06,266.68 158.16,266.39 158.27,266.10 158.37,265.81 158.48,265.51 158.58,265.21 158.68,264.91 158.79,264.61 158.89,264.30 159.00,263.99 159.10,263.68 159.20,263.36 159.31,263.04 159.41,262.72 159.52,262.39 159.62,262.07 159.72,261.74 159.83,261.40 159.93,261.07 160.04,260.72 160.14,260.38 160.24,260.03 160.35,259.68 160.45,259.33 160.56,258.98 160.66,258.62 160.76,258.25 160.87,257.88 160.97,257.51 161.08,257.14 161.18,256.76 161.29,256.38 161.39,256.00 161.49,255.61 161.60,255.22 161.70,254.82 161.81,254.42 161.91,254.02 162.01,253.61 162.12,253.20 162.22,252.79 162.33,252.37 162.43,251.95 162.53,251.52 162.64,251.09 162.74,250.65 162.85,250.21 162.95,249.77 163.05,249.33 163.16,248.87 163.26,248.42 163.37,247.96 163.47,247.50 163.58,247.03 163.68,246.56 163.78,246.08 163.89,245.60 163.99,245.11 164.10,244.62 164.20,244.13 164.30,243.63 164.41,243.13 164.51,242.62 164.62,242.11 164.72,241.59 164.82,241.07 164.93,240.55 165.03,240.02 165.14,239.49 165.24,238.95 165.34,238.41 165.45,237.86 165.55,237.31 165.66,236.75 165.76,236.19 165.86,235.63 165.97,235.06 166.07,234.49 166.18,233.91 166.28,233.33 166.39,232.75 166.49,232.16 166.59,231.57 166.70,230.97 166.80,230.37 166.91,229.77 167.01,229.16 167.11,228.55 167.22,227.94 167.32,227.32 167.43,226.71 167.53,226.08 167.63,225.46 167.74,224.83 167.84,224.20 167.95,223.57 168.05,222.93 168.15,222.30 168.26,221.66 168.36,221.02 168.47,220.38 168.57,219.74 168.67,219.10 168.78,218.45 168.88,217.81 168.99,217.17 169.09,216.53 169.20,215.88 169.30,215.24 169.40,214.60 169.51,213.97 169.61,213.33 169.72,212.70 169.82,212.07 169.92,211.44 170.03,210.82 170.13,210.20 170.24,209.58 170.34,208.97 170.44,208.37 170.55,207.77 170.65,207.17 170.76,206.59 170.86,206.01 170.96,205.44 171.07,204.88 171.17,204.32 171.28,203.78 171.38,203.24 171.49,202.72 171.59,202.20 171.69,201.70 171.80,201.21 171.90,200.73 172.01,200.27 172.11,199.82 172.21,199.38 172.32,198.95 172.42,198.55 172.53,198.15 172.63,197.77 172.73,197.41 172.84,197.07 172.94,196.74 173.05,196.43 173.15,196.14 173.25,195.87 173.36,195.61 173.46,195.38 173.57,195.16 173.67,194.97 173.77,194.79 173.88,194.63 173.98,194.49 174.09,194.38 174.19,194.28 174.30,194.21 174.40,194.15 174.50,194.12 174.61,194.11 174.71,194.11 174.82,194.14 174.92,194.19 175.02,194.26 175.13,194.35 175.23,194.46 175.34,194.59 175.44,194.74 175.54,194.91 175.65,195.10 175.75,195.30 175.86,195.53 175.96,195.77 176.06,196.04 176.17,196.31 176.27,196.61 176.38,196.92 176.48,197.25 176.59,197.60 176.69,197.96 176.79,198.33 176.90,198.72 177.00,199.12 177.11,199.54 177.21,199.96 177.31,200.41 177.42,200.86 177.52,201.32 177.63,201.80 177.73,202.28 177.83,202.77 177.94,203.28 178.04,203.79 178.15,204.31 178.25,204.84 178.35,205.37 178.46,205.92 178.56,206.47 178.67,207.02 178.77,207.58 178.87,208.15 178.98,208.72 179.08,209.29 179.19,209.87 179.29,210.45 179.40,211.03 179.50,211.62 179.60,212.21 179.71,212.80 179.81,213.39 179.92,213.98 180.02,214.58 180.12,215.17 180.23,215.77 180.33,216.37 180.44,216.96 180.54,217.56 180.64,218.15 180.75,218.75 180.85,219.34 180.96,219.93 181.06,220.52 181.16,221.11 181.27,221.70 181.37,222.28 181.48,222.86 181.58,223.45 181.68,224.02 181.79,224.60 181.89,225.17 182.00,225.74 182.10,226.31 182.21,226.87 182.31,227.43 182.41,227.99 182.52,228.54 182.62,229.09 182.73,229.64 182.83,230.18 182.93,230.72 183.04,231.26 183.14,231.79 183.25,232.32 183.35,232.85 183.45,233.37 183.56,233.89 183.66,234.40 183.77,234.91 183.87,235.42 183.97,235.92 184.08,236.42 184.18,236.91 184.29,237.40 184.39,237.88 184.50,238.37 184.60,238.84 184.70,239.32 184.81,239.79 184.91,240.25 185.02,240.72 185.12,241.17 185.22,241.63 185.33,242.08 185.43,242.52 185.54,242.97 185.64,243.41 185.74,243.84 185.85,244.27 185.95,244.70 186.06,245.12 186.16,245.54 186.26,245.96 186.37,246.37 186.47,246.78 186.58,247.18 186.68,247.58 186.78,247.98 186.89,248.37 186.99,248.76 187.10,249.15 187.20,249.53 187.31,249.91 187.41,250.28 187.51,250.66 187.62,251.03 187.72,251.39 187.83,251.75 187.93,252.11 188.03,252.47 188.14,252.82 188.24,253.17 188.35,253.52 188.45,253.86 188.55,254.20 188.66,254.54 188.76,254.87 188.87,255.20 188.97,255.53 189.07,255.85 189.18,256.17 189.28,256.49 189.39,256.81 189.49,257.12 189.60,257.43 189.70,257.74 189.80,258.04 189.91,258.34 190.01,258.64 190.12,258.94 190.22,259.23 190.32,259.52 190.43,259.81 190.53,260.10 190.64,260.38 190.74,260.66 190.84,260.94 190.95,261.22 191.05,261.49 191.16,261.76 191.26,262.03 191.36,262.30 191.47,262.56 191.57,262.82 191.68,263.08 191.78,263.34 191.88,263.59 191.99,263.84 192.09,264.10 192.20,264.34 192.30,264.59 192.41,264.83 192.51,265.08 192.61,265.32 192.72,265.55 192.82,265.79 192.93,266.02 193.03,266.26 193.13,266.49 193.24,266.71 193.34,266.94 193.45,267.16 193.55,267.39 193.65,267.61 193.76,267.83 193.86,268.04 193.97,268.26 194.07,268.47 194.17,268.68 194.28,268.89 194.38,269.10 194.49,269.31 194.59,269.51 194.69,269.71 194.80,269.92 194.90,270.12" stroke="#C4689E" stroke-dasharray="1.70 2.80"/>
<polyline points="169.40,270.13 169.51,269.91 169.61,269.68 169.72,269.46 169.82,269.23 169.92,269.00 170.03,268.77 170.13,268.54 170.24,268.31 170.34,268.08 170.44,267.84 170.55,267.61 170.65,267.37 170.76,267.13 170.86,266.89 170.96,266.64 171.07,266.40 171.17,266.15 171.28,265.90 171.38,265.65 171.49,265.40 171.59,265.15 171.69,264.90 171.80,264.64 171.90,264.38 172.01,264.12 172.11,263.86 172.21,263.60 172.32,263.34 172.42,263.07 172.53,262.80 172.63,262.54 172.73,262.27 172.84,261.99 172.94,261.72 173.05,261.44 173.15,261.17 173.25,260.89 173.36,260.61 173.46,260.33 173.57,260.04 173.67,259.76 173.77,259.47 173.88,259.18 173.98,258.89 174.09,258.60 174.19,258.31 174.30,258.01 174.40,257.72 174.50,257.42 174.61,257.12 174.71,256.82 174.82,256.52 174.92,256.22 175.02,255.91 175.13,255.60 175.23,255.30 175.34,254.99 175.44,254.67 175.54,254.36 175.65,254.05 175.75,253.73 175.86,253.42 175.96,253.10 176.06,252.78 176.17,252.46 176.27,252.14 176.38,251.82 176.48,251.49 176.59,251.17 176.69,250.84 176.79,250.51 176.90,250.19 177.00,249.86 177.11,249.53 177.21,249.20 177.31,248.86 177.42,248.53 177.52,248.20 177.63,247.86 177.73,247.53 177.83,247.20 177.94,246.86 178.04,246.52 178.15,246.19 178.25,245.85 178.35,245.51 178.46,245.17 178.56,244.84 178.67,244.50 178.77,244.16 178.87,243.82 178.98,243.49 179.08,243.15 179.19,242.81 179.29,242.48 179.40,242.14 179.50,241.80 179.60,241.47 179.71,241.13 179.81,240.80 179.92,240.47 180.02,240.14 180.12,239.81 180.23,239.48 180.33,239.15 180.44,238.82 180.54,238.50 180.64,238.18 180.75,237.86 180.85,237.54 180.96,237.22 181.06,236.90 181.16,236.59 181.27,236.28 181.37,235.97 181.48,235.67 181.58,235.36 181.68,235.06 181.79,234.77 181.89,234.47 182.00,234.18 182.10,233.90 182.21,233.61 182.31,233.33 182.41,233.06 182.52,232.79 182.62,232.52 182.73,232.25 182.83,231.99 182.93,231.74 183.04,231.49 183.14,231.24 183.25,231.00 183.35,230.77 183.45,230.54 183.56,230.31 183.66,230.09 183.77,229.88 183.87,229.67 183.97,229.46 184.08,229.27 184.18,229.07 184.29,228.89 184.39,228.71 184.50,228.54 184.60,228.37 184.70,228.21 184.81,228.06 184.91,227.91 185.02,227.77 185.12,227.64 185.22,227.51 185.33,227.39 185.43,227.28 185.54,227.18 185.64,227.08 185.74,226.99 185.85,226.90 185.95,226.83 186.06,226.76 186.16,226.70 186.26,226.65 186.37,226.60 186.47,226.56 186.58,226.53 186.68,226.51 186.78,226.49 186.89,226.48 186.99,226.48 187.10,226.49 187.20,226.50 187.31,226.52 187.41,226.55 187.51,226.59 187.62,226.63 187.72,226.68 187.83,226.74 187.93,226.81 188.03,226.88 188.14,226.96 188.24,227.04 188.35,227.14 188.45,227.24 188.55,227.35 188.66,227.46 188.76,227.58 188.87,227.71 188.97,227.84 189.07,227.98 189.18,228.13 189.28,228.28 189.39,228.44 189.49,228.60 189.60,228.77 189.70,228.94 189.80,229.12 189.91,229.31 190.01,229.50 190.12,229.70 190.22,229.90 190.32,230.11 190.43,230.32 190.53,230.53 190.64,230.75 190.74,230.98 190.84,231.21 190.95,231.44 191.05,231.68 191.16,231.92 191.26,232.16 191.36,232.41 191.47,232.66 191.57,232.92 191.68,233.18 191.78,233.44 191.88,233.70 191.99,233.97 192.09,234.24 192.20,234.51 192.30,234.79 192.41,235.07 192.51,235.35 192.61,235.63 192.72,235.91 192.82,236.20 192.93,236.49 193.03,236.78 193.13,237.07 193.24,237.36 193.34,237.66 193.45,237.95 193.55,238.25 193.65,238.55 193.76,238.84 193.86,239.14 193.97,239.45 194.07,239.75 194.17,240.05 194.28,240.35 194.38,240.65 194.49,240.96 194.59,241.26 194.69,241.57 194.80,241.87 194.90,242.18 195.01,242.48 195.11,242.79 195.22,243.09 195.32,243.39 195.42,243.70 195.53,244.00 195.63,244.31 195.74,244.61 195.84,244.91 195.94,245.22 196.05,245.52 196.15,245.82 196.26,246.12 196.36,246.42 196.46,246.72 196.57,247.02 196.67,247.32 196.78,247.62 196.88,247.91 196.98,248.21 197.09,248.50 197.19,248.80 197.30,249.09 197.40,249.38 197.51,249.67 197.61,249.96 197.71,250.25 197.82,250.54 197.92,250.82 198.03,251.11 198.13,251.39 198.23,251.68 198.34,251.96 198.44,252.24 198.55,252.52 198.65,252.80 198.75,253.07 198.86,253.35 198.96,253.62 199.07,253.89 199.17,254.17 199.27,254.44 199.38,254.70 199.48,254.97 199.59,255.24 199.69,255.50 199.79,255.77 199.90,256.03 200.00,256.29 200.11,256.55 200.21,256.80 200.32,257.06 200.42,257.32 200.52,257.57 200.63,257.82 200.73,258.07 200.84,258.32 200.94,258.57 201.04,258.81 201.15,259.06 201.25,259.30 201.36,259.55 201.46,259.79 201.56,260.02 201.67,260.26 201.77,260.50 201.88,260.73 201.98,260.97 202.08,261.20 202.19,261.43 202.29,261.66 202.40,261.89 202.50,262.11 202.61,262.34 202.71,262.56 202.81,262.79 202.92,263.01 203.02,263.23 203.13,263.44 203.23,263.66 203.33,263.88 203.44,264.09 203.54,264.30 203.65,264.52 203.75,264.73 203.85,264.93 203.96,265.14 204.06,265.35 204.17,265.55 204.27,265.76 204.37,265.96 204.48,266.16 204.58,266.36 204.69,266.56 204.79,266.76 204.89,266.95 205.00,267.15 205.10,267.34 205.21,267.53 205.31,267.72 205.42,267.91 205.52,268.10 205.62,268.29 205.73,268.48 205.83,268.66 205.94,268.84 206.04,269.03 206.14,269.21 206.25,269.39 206.35,269.57 206.46,269.75 206.56,269.92 206.66,270.10" stroke="#2196DE" stroke-dasharray="10.88 2.72 1.70 2.72"/>
<polyline points="182.20,172.54 182.59,174.16 182.98,175.75 183.36,177.30 183.75,178.82 184.14,180.31 184.53,181.76 184.92,183.19 185.30,184.58 185.69,185.95 186.08,187.28 186.47,188.59 186.86,189.88 187.24,191.14 187.63,192.37 188.02,193.58 188.41,194.77 188.79,195.93 189.18,197.08 189.57,198.20 189.96,199.30 190.35,200.38 190.73,201.44 191.12,202.48 191.51,203.50 191.90,204.51 192.29,205.49 192.67,206.46 193.06,207.42 193.45,208.35 193.84,209.28 194.23,210.18 194.61,211.07 195.00,211.95 195.39,212.81 195.78,213.66 196.17,214.49 196.55,215.31 196.94,216.12 197.33,216.91 197.72,217.69 198.10,218.46 198.49,219.22 198.88,219.97 199.27,220.70 199.66,221.43 200.04,222.14 200.43,222.84 200.82,223.54 201.21,224.22 201.60,224.89 201.98,225.55 202.37,226.21 202.76,226.85 203.15,227.49 203.54,228.11 203.92,228.73 204.31,229.34 204.70,229.94 205.09,230.53 205.48,231.12 205.86,231.69 206.25,232.26 206.64,232.82 207.03,233.38 207.41,233.92 207.80,234.46 208.19,235.00 208.58,235.52 208.97,236.04 209.35,236.55 209.74,237.06 210.13,237.56 210.52,238.05 210.91,238.54 211.29,239.02 211.68,239.50 212.07,239.97 212.46,240.43 212.85,240.89 213.23,241.34 213.62,241.79 214.01,242.23 214.40,242.67 214.79,243.10 215.17,243.53 215.56,243.95 215.95,244.37 216.34,244.78 216.72,245.19 217.11,245.59 217.50,245.99 217.89,246.39 218.28,246.78 218.66,247.16 219.05,247.55 219.44,247.92 219.83,248.30 220.22,248.67 220.60,249.03 220.99,249.39 221.38,249.75 221.77,250.10 222.16,250.46 222.54,250.80 222.93,251.14 223.32,251.48 223.71,251.82 224.10,252.15 224.48,252.48 224.87,252.81 225.26,253.13 225.65,253.45 226.03,253.77 226.42,254.08 226.81,254.39 227.20,254.70 227.59,255.00 227.97,255.30 228.36,255.60 228.75,255.90 229.14,256.19 229.53,256.48 229.91,256.76 230.30,257.05 230.69,257.33 231.08,257.61 231.47,257.89 231.85,258.16 232.24,258.43 232.63,258.70 233.02,258.97 233.41,259.23 233.79,259.49 234.18,259.75 234.57,260.01 234.96,260.26 235.34,260.51 235.73,260.76 236.12,261.01 236.51,261.26 236.90,261.50 237.28,261.74 237.67,261.98 238.06,262.22 238.45,262.45 238.84,262.69 239.22,262.92 239.61,263.15 240.00,263.37" stroke="#dc2830" stroke-width="1.3"/>
</g>
<g stroke="#000" stroke-width="0.55" fill="none">
<line x1="52.20" y1="146.35" x2="52.20" y2="260"/>
<line x1="447.10" y1="146.35" x2="447.10" y2="260"/>
<line x1="52.20" y1="146.35" x2="447.10" y2="146.35"/>
<line x1="50.20" y1="225.40" x2="52.20" y2="225.40"/>
<line x1="50.20" y1="194.20" x2="52.20" y2="194.20"/>
<line x1="50.20" y1="163.00" x2="52.20" y2="163.00"/>
</g>
<g font-size="12.50" fill="#000">
<text x="48.5" y="230.36" text-anchor="end">75</text>
<text x="48.5" y="199.16" text-anchor="end">100</text>
<text x="48.5" y="167.96" text-anchor="end">125</text>
</g>
<text transform="translate(19.7,199.4) rotate(-90)" text-anchor="end" font-size="13.4"><tspan font-size="11.6" dy="-1.6">|</tspan><tspan dy="1.6" dx="0.3">α</tspan><tspan font-size="11.6" dy="-1.6" dx="0.3">|</tspan><tspan dy="1.6" dx="0.3">/v [a.u.]</tspan></text>
<rect x="331.7" y="151.5" width="110.5" height="120" rx="2" fill="#fff" fill-opacity="0.8" stroke="#cccccc" stroke-width="0.7"/>
<text x="339.10" y="164.00" font-size="9.30" text-anchor="middle">ω</text>
<text x="345.50" y="166.20" font-size="6.60" text-anchor="middle" font-style="italic">p</text>
<text x="355.05" y="164.00" font-size="9.30" text-anchor="middle">=</text>
<text x="373.15" y="164.00" font-size="9.30" text-anchor="middle">1.23</text>
<text x="396.00" y="164.00" font-size="9.30" text-anchor="middle">10</text>
<text x="406.60" y="160.40" font-size="6.60" text-anchor="middle">16</text>
<text x="426.20" y="164.00" font-size="9.30" text-anchor="middle">rad/s</text>
<text x="338.20" y="178.30" font-size="9.30" text-anchor="middle">γ</text>
<text x="348.00" y="178.30" font-size="9.30" text-anchor="middle">=</text>
<text x="363.10" y="178.30" font-size="9.30" text-anchor="middle">3.8</text>
<text x="382.50" y="178.30" font-size="9.30" text-anchor="middle">10</text>
<text x="393.60" y="174.40" font-size="6.60" text-anchor="middle">13</text>
<text x="413.60" y="178.30" font-size="9.30" text-anchor="middle">rad/s</text>
<text x="337.70" y="188.90" font-size="9.30" text-anchor="middle">ε</text>
<text x="344.30" y="190.70" font-size="6.60" text-anchor="middle"><tspan font-style="italic">m</tspan>,</text>
<text x="353.2" y="190.9" font-size="7.6" text-anchor="middle" style="stroke-width:0.1px">∞</text>
<text x="363.40" y="188.90" font-size="9.30" text-anchor="middle">=</text>
<text x="381.50" y="188.90" font-size="9.30" text-anchor="middle">7.93</text>
<text x="337.70" y="201.10" font-size="9.30" text-anchor="middle">ε</text>
<text x="342.50" y="202.50" font-size="6.60" text-anchor="middle" font-style="italic">h</text>
<text x="352.00" y="201.10" font-size="9.30" text-anchor="middle">=</text>
<text x="369.60" y="201.10" font-size="9.30" text-anchor="middle">1.77</text>
<g fill="none" stroke-width="1.70">
<line x1="335.1" y1="212.40" x2="355.9" y2="212.40" stroke="#F0DD12"/>
<line x1="335.1" y1="226.40" x2="355.9" y2="226.40" stroke="#C4689E" stroke-dasharray="1.70 2.80"/>
<line x1="335.1" y1="240.80" x2="355.9" y2="240.80" stroke="#2196DE" stroke-dasharray="10.88 2.72 1.70 2.72"/>
<line x1="335.1" y1="255.00" x2="355.9" y2="255.00" stroke="#d62728"/>
</g>
<g font-size="9.8" fill="#000">
<text x="362.2" y="216.50">r = 5 nm</text>
<text x="362.2" y="230.50">r = 15 nm</text>
<text x="362.2" y="244.90">r = 20 nm</text>
<text x="362.2" y="259.10">r = 50 nm</text>
</g>
</svg></body></html>
